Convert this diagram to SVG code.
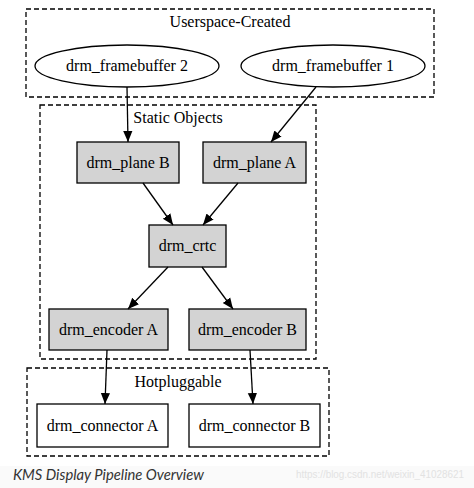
<svg xmlns="http://www.w3.org/2000/svg" width="474" height="488" viewBox="0 0 474 488">
<style>
.cl{fill:none;stroke:#000;stroke-width:1.3;stroke-dasharray:5,3}
.nd{fill:#d3d3d3;stroke:#000;stroke-width:1.3}
.nw{fill:#fff;stroke:#000;stroke-width:1.3}
.t{font-family:"Liberation Serif","Times New Roman",serif;font-size:16px;fill:#000;text-anchor:middle}
.e{fill:none;stroke:#000;stroke-width:1.3}
</style>
<defs>
<marker id="ah" viewBox="0 0 10 10" refX="10" refY="5" markerWidth="11" markerHeight="11" markerUnits="userSpaceOnUse" orient="auto">
<path d="M0,0.8 L10,5 L0,9.2 Z" fill="#000"/>
</marker>
</defs>
<rect width="474" height="488" fill="#fff"/>
<rect x="0" y="466" width="474" height="22" fill="#fafafa"/>
<g id="cluster_userspace">
<rect class="cl" x="26" y="9" width="408" height="88"/>
<text class="t" x="230" y="27">Userspace-Created</text>
</g>
<g id="cluster_static">
<rect class="cl" x="40" y="105" width="276" height="254"/>
<text class="t" x="178" y="123">Static Objects</text>
</g>
<g id="cluster_hotplug">
<rect class="cl" x="27" y="368" width="302" height="88"/>
<text class="t" x="178" y="387">Hotpluggable</text>
</g>
<g id="fb2">
<ellipse cx="127" cy="66" rx="92" ry="21" fill="#fff" stroke="#000" stroke-width="1.3"/>
<text class="t" x="127" y="71">drm_framebuffer 2</text>
</g>
<g id="fb1">
<ellipse cx="333" cy="66" rx="92" ry="21" fill="#fff" stroke="#000" stroke-width="1.3"/>
<text class="t" x="333" y="71">drm_framebuffer 1</text>
</g>
<g id="planeB">
<rect class="nd" x="77" y="142" width="102" height="41"/>
<text class="t" x="128" y="168">drm_plane B</text>
</g>
<g id="planeA">
<rect class="nd" x="203" y="142" width="103" height="41"/>
<text class="t" x="254.5" y="168">drm_plane A</text>
</g>
<g id="crtc">
<rect class="nd" x="149" y="225" width="77" height="42"/>
<text class="t" x="187.5" y="251">drm_crtc</text>
</g>
<g id="encA">
<rect class="nd" x="49" y="309" width="119" height="41"/>
<text class="t" x="108.5" y="335">drm_encoder A</text>
</g>
<g id="encB">
<rect class="nd" x="189" y="309" width="117" height="41"/>
<text class="t" x="247.5" y="335">drm_encoder B</text>
</g>
<g id="connA">
<rect class="nw" x="37" y="404" width="131" height="43"/>
<text class="t" x="102.5" y="431">drm_connector A</text>
</g>
<g id="connB">
<rect class="nw" x="189" y="404" width="131" height="43"/>
<text class="t" x="254.5" y="431">drm_connector B</text>
</g>
<g id="edges">
<path class="e" d="M127,87 L128,142" marker-end="url(#ah)"/>
<path class="e" d="M316,87 L271,142" marker-end="url(#ah)"/>
<path class="e" d="M143,183 L173,225" marker-end="url(#ah)"/>
<path class="e" d="M238,183 L203,225" marker-end="url(#ah)"/>
<path class="e" d="M168,267 L128,309" marker-end="url(#ah)"/>
<path class="e" d="M202,267 L233,309" marker-end="url(#ah)"/>
<path class="e" d="M107,350 L105,404" marker-end="url(#ah)"/>
<path class="e" d="M250,350 L253,404" marker-end="url(#ah)"/>
</g>
<text x="13" y="480" font-family="Lato,'Open Sans',sans-serif" font-style="italic" font-size="15" fill="#333" textLength="191" lengthAdjust="spacingAndGlyphs">KMS Display Pipeline Overview</text>
<text x="296" y="478" font-family="'Liberation Sans',Arial,sans-serif" font-size="11.5" fill="#e2e2e2" textLength="168" lengthAdjust="spacingAndGlyphs">https://blog.csdn.net/weixin_41028621</text>
</svg>
